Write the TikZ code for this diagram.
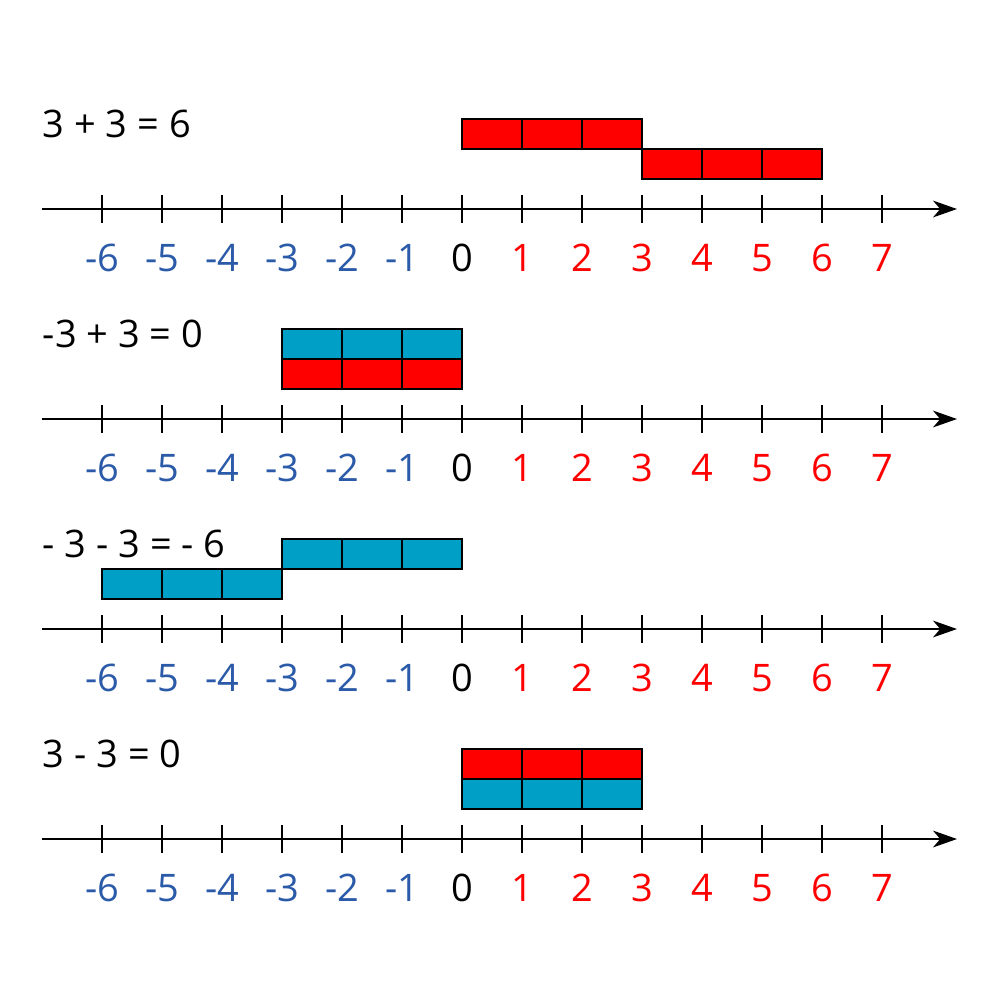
\documentclass[tikz,border=0pt]{standalone}
\usepackage{fontspec}
\setmainfont{Open Sans}
\usepackage{tikz}
\usetikzlibrary{positioning}
\usetikzlibrary{arrows.meta}
\definecolor{numred}{RGB}{255,0,0}
\definecolor{numteal}{RGB}{0,160,198}
\definecolor{numblue}{RGB}{43,90,168}

\begin{document}
\begin{tikzpicture}[line width=0.8pt,
  lbl/.style={font=\fontsize{18}{20}\selectfont, inner sep=0pt, anchor=base},
  block/.style={draw=black, line width=0.5pt, minimum width=1cm, minimum height=0.5cm, inner sep=0pt, outer sep=0pt},
  redblock/.style={block, fill=numred},
  tealblock/.style={block, fill=numteal}]
\useasboundingbox (-7.7,0) rectangle (8.9667,16.6667);
% -- the four number lines --
\foreach \r/\y in {0/13.183,1/9.683,2/6.183,3/2.683} {
  \coordinate (s\r) at (-7,\y);
  \coordinate (e\r) at (8.25,\y);
  \draw[-{Stealth[length=0.4cm,width=0.28cm,inset=0.12cm]}] (s\r) -- (e\r);
  \foreach \n in {-6,...,7}
    \draw (\n,\y-0.23) -- (\n,\y+0.23);
  \foreach \n in {-6,...,-1}
    \node[lbl, text=numblue] (l\r\n) at (\n,\y-1.04) {\n};
  \node[lbl, text=black] (l\r0) at (0,\y-1.04) {0};
  \foreach \n in {1,...,7}
    \node[lbl, text=numred] (l\r\n) at (\n,\y-1.04) {\n};
}
% -- row 0: 3 + 3 --
\node[lbl, anchor=base west] (eq0) at (-7,14.383) {3 + 3 = 6};
\node[redblock] (a1) at (0.5,14.433) {};
\node[redblock, right=0pt of a1] (a2) {};
\node[redblock, right=0pt of a2] (a3) {};
\node[redblock, below right=0pt and 0pt of a3.south east, anchor=north west] (a4) {};
\node[redblock, right=0pt of a4] (a5) {};
\node[redblock, right=0pt of a5] (a6) {};
% -- row 1: -3 + 3 --
\node[lbl, anchor=base west] (eq1) at (-7,10.883) {-3 + 3 = 0};
\node[tealblock] (b1) at (-2.5,10.933) {};
\node[tealblock, right=0pt of b1] (b2) {};
\node[tealblock, right=0pt of b2] (b3) {};
\node[redblock, below=0pt of b1] (b4) {};
\node[redblock, below=0pt of b2] (b5) {};
\node[redblock, below=0pt of b3] (b6) {};
% -- row 2: -3 - 3 --
\node[lbl, anchor=base west] (eq2) at (-7,7.383) {- 3 - 3 = - 6};
\node[tealblock] (c1) at (-2.5,7.433) {};
\node[tealblock, right=0pt of c1] (c2) {};
\node[tealblock, right=0pt of c2] (c3) {};
\node[tealblock, anchor=north east] (c4) at (c1.south west) {};
\node[tealblock, left=0pt of c4] (c5) {};
\node[tealblock, left=0pt of c5] (c6) {};
% -- row 3: 3 - 3 --
\node[lbl, anchor=base west] (eq3) at (-7,3.883) {3 - 3 = 0};
\node[redblock] (d1) at (0.5,3.933) {};
\node[redblock, right=0pt of d1] (d2) {};
\node[redblock, right=0pt of d2] (d3) {};
\node[tealblock, below=0pt of d1] (d4) {};
\node[tealblock, below=0pt of d2] (d5) {};
\node[tealblock, below=0pt of d3] (d6) {};
\end{tikzpicture}
\end{document}
